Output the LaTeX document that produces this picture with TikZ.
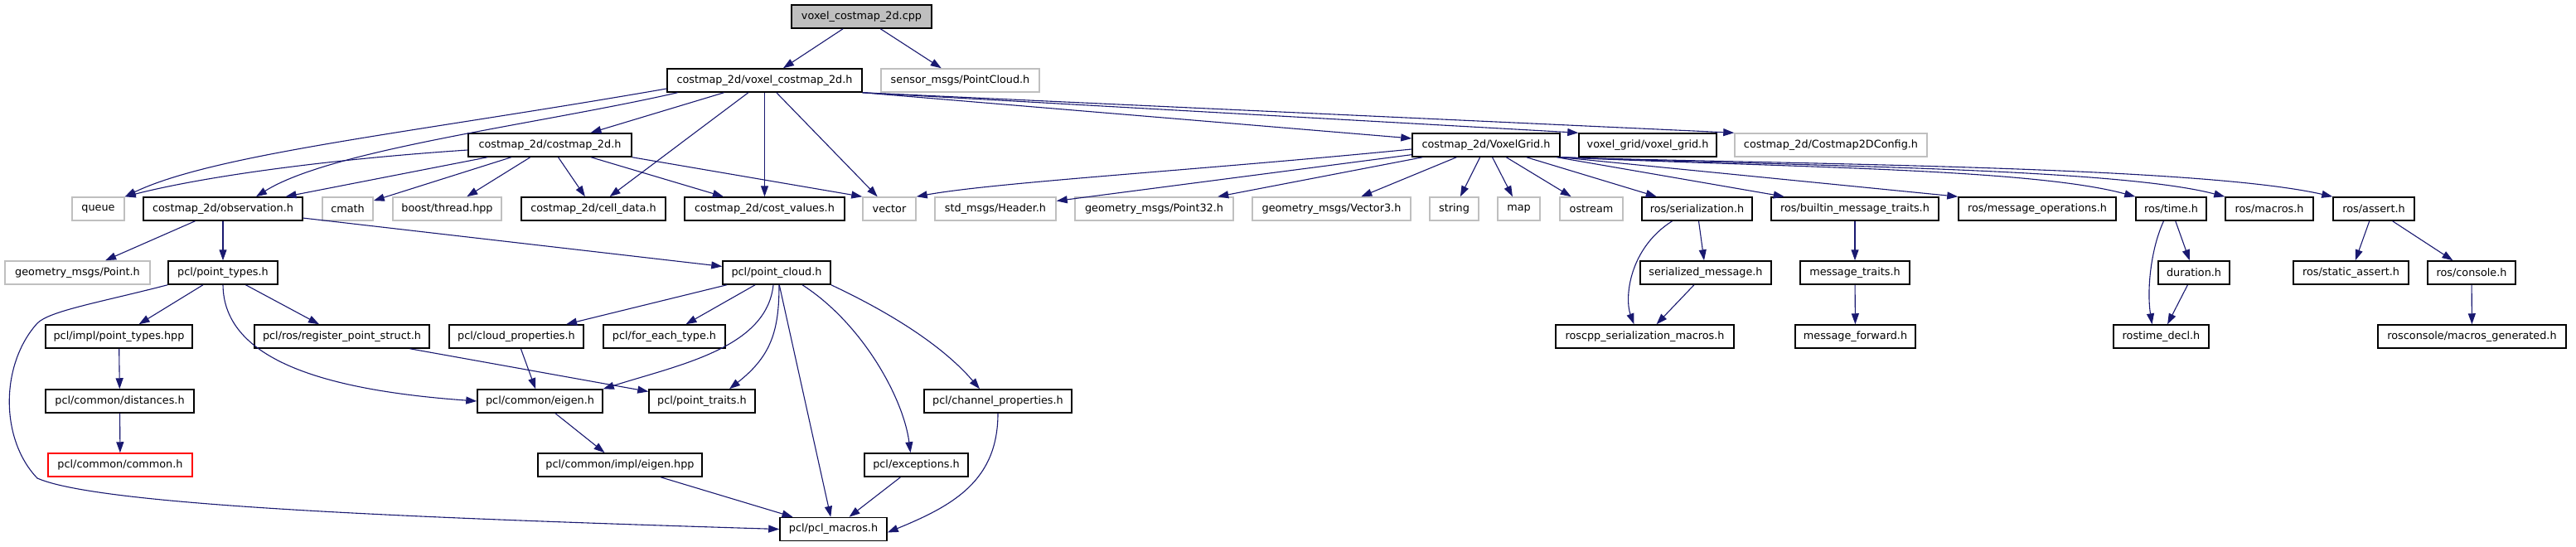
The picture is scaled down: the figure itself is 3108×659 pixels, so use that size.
\documentclass[tikz,border=0pt]{standalone}
\usepackage{fontspec}
\setmainfont{DejaVu Sans}
\usetikzlibrary{arrows.meta}
\definecolor{edgeblue}{HTML}{191970}
\definecolor{grey75}{HTML}{BFBFBF}

\begin{document}
\begin{tikzpicture}[
    x=1pt, y=-1pt,
    font=\fontsize{12.8}{15}\selectfont,
    box/.style={draw=#1, fill=white, line width=1.5pt, minimum height=28pt, inner xsep=2pt, inner ysep=0pt},
    box/.default=black,
    dep/.style={draw=edgeblue, line width=1.1pt, -{Triangle[length=13pt, width=9pt]}}
]
    \useasboundingbox (0,0) rectangle (3108,659);

    % Source file
    \node[box, fill=grey75, minimum width=169] (voxel_cpp) at (1039.5,20) {voxel\_costmap\_2d.cpp};

    % Level 1
    \node[box, minimum width=235] (voxel_h) at (922.5,97) {costmap\_2d/voxel\_costmap\_2d.h};
    \node[box=grey75, minimum width=191] (sensor_pc) at (1158.5,97) {sensor\_msgs/PointCloud.h};

    % Level 2
    \node[box, minimum width=197] (costmap_h) at (663.5,175) {costmap\_2d/costmap\_2d.h};
    \node[box, minimum width=178] (costmap_vg) at (1793,175) {costmap\_2d/VoxelGrid.h};
    \node[box, minimum width=166] (voxel_grid) at (1988,175) {voxel\_grid/voxel\_grid.h};
    \node[box=grey75, minimum width=232] (config_h) at (2209,175) {costmap\_2d/Costmap2DConfig.h};

    % Level 3
    \node[box=grey75, minimum width=63] (queue) at (118.5,252) {queue};
    \node[box, minimum width=192] (observation_h) at (269,252) {costmap\_2d/observation.h};
    \node[box=grey75, minimum width=61] (cmath) at (419.5,252) {cmath};
    \node[box=grey75, minimum width=131] (boost_thread) at (539.5,252) {boost/thread.hpp};
    \node[box, minimum width=174] (cell_data) at (716,252) {costmap\_2d/cell\_data.h};
    \node[box, minimum width=193] (cost_values) at (922.5,252) {costmap\_2d/cost\_values.h};
    \node[box=grey75, minimum width=64] (vector) at (1073,252) {vector};
    \node[box=grey75, minimum width=146] (header) at (1201,252) {std\_msgs/Header.h};
    \node[box=grey75, minimum width=191] (point32) at (1392.5,252) {geometry\_msgs/Point32.h};
    \node[box=grey75, minimum width=191] (vector3) at (1606.5,252) {geometry\_msgs/Vector3.h};
    \node[box=grey75, minimum width=59] (string) at (1754.5,252) {string};
    \node[box=grey75, minimum width=51] (map) at (1832.5,252) {map};
    \node[box=grey75, minimum width=76] (ostream) at (1920,252) {ostream};
    \node[box, minimum width=133] (serialization) at (2047.5,252) {ros/serialization.h};
    \node[box, minimum width=202] (builtin_traits) at (2238,252) {ros/builtin\_message\_traits.h};
    \node[box, minimum width=190] (msg_ops) at (2458,252) {ros/message\_operations.h};
    \node[box, minimum width=85] (ros_time) at (2619.5,252) {ros/time.h};
    \node[box, minimum width=106] (ros_macros) at (2738,252) {ros/macros.h};
    \node[box, minimum width=98] (ros_assert) at (2864,252) {ros/assert.h};

    % Level 4
    \node[box=grey75, minimum width=175] (geo_point) at (93.5,329) {geometry\_msgs/Point.h};
    \node[box, minimum width=132] (point_types) at (269,329) {pcl/point\_types.h};
    \node[box, minimum width=130] (point_cloud) at (937,329) {pcl/point\_cloud.h};
    \node[box, minimum width=158] (serialized_msg) at (2058,329) {serialized\_message.h};
    \node[box, minimum width=132] (msg_traits) at (2238,329) {message\_traits.h};
    \node[box, minimum width=86] (duration) at (2647,329) {duration.h};
    \node[box, minimum width=139] (static_assert) at (2836.5,329) {ros/static\_assert.h};
    \node[box, minimum width=106] (console) at (2982,329) {ros/console.h};

    % Level 5
    \node[box, minimum width=177] (impl_point_types) at (143.5,406) {pcl/impl/point\_types.hpp};
    \node[box, minimum width=211] (register_ps) at (412.5,406) {pcl/ros/register\_point\_struct.h};
    \node[box, minimum width=162] (cloud_props) at (623,406) {pcl/cloud\_properties.h};
    \node[box, minimum width=147] (for_each) at (801.5,406) {pcl/for\_each\_type.h};
    \node[box, minimum width=215] (ser_macros) at (1984.5,406) {roscpp\_serialization\_macros.h};
    \node[box, minimum width=145] (msg_forward) at (2238.5,406) {message\_forward.h};
    \node[box, minimum width=115] (rostime_decl) at (2607.5,406) {rostime\_decl.h};
    \node[box, minimum width=227] (macros_gen) at (2982.5,406) {rosconsole/macros\_generated.h};

    % Level 6
    \node[box, minimum width=179] (distances) at (144.5,484) {pcl/common/distances.h};
    \node[box, minimum width=151] (eigen_h) at (651.5,484) {pcl/common/eigen.h};
    \node[box, minimum width=128] (point_traits) at (847,484) {pcl/point\_traits.h};
    \node[box, minimum width=178] (channel_props) at (1204,484) {pcl/channel\_properties.h};

    % Level 7
    \node[box=red, minimum width=174] (common_h) at (145,561) {pcl/common/common.h};
    \node[box, minimum width=198] (impl_eigen) at (748,561) {pcl/common/impl/eigen.hpp};
    \node[box, minimum width=125] (exceptions) at (1105.5,561) {pcl/exceptions.h};

    % Level 8
    \node[box, minimum width=129] (pcl_macros) at (1005.5,638.5) {pcl/pcl\_macros.h};

    % Edges from the source file
    \draw[dep] (voxel_cpp) -- (voxel_h);
    \draw[dep] (voxel_cpp) -- (sensor_pc);

    % voxel_costmap_2d.h
    \draw[dep] ([yshift=-10pt]voxel_h.west) .. controls (500,160) and (260,185) .. (queue.north east);
    \draw[dep] ([xshift=-105pt]voxel_h.south) .. controls (650,150) and (400,180) .. ([xshift=40pt]observation_h.north);
    \draw[dep] (voxel_h) -- (costmap_h);
    \draw[dep] (voxel_h) -- (cell_data);
    \draw[dep] (voxel_h) -- (cost_values);
    \draw[dep] (voxel_h) -- (vector);
    \draw[dep] (voxel_h.south east) -- ([yshift=8pt]costmap_vg.west);
    \draw[dep] (voxel_h.south east) -- (voxel_grid.north west);
    \draw[dep] (voxel_h.south east) -- (config_h.north west);

    % costmap_2d.h
    \draw[dep] ([yshift=-6pt]costmap_h.west) .. controls (400,192) and (250,212) .. (queue.north east);
    \draw[dep] (costmap_h) -- (observation_h);
    \draw[dep] (costmap_h) -- (cmath);
    \draw[dep] (costmap_h) -- (boost_thread);
    \draw[dep] (costmap_h) -- (cell_data);
    \draw[dep] (costmap_h) -- (cost_values);
    \draw[dep] (costmap_h.south east) -- (vector.north west);

    % VoxelGrid.h
    \draw[dep] ([yshift=-5pt]costmap_vg.west) .. controls (1450,205) and (1200,220) .. (vector.north east);
    \draw[dep] (costmap_vg) -- (header);
    \draw[dep] (costmap_vg) -- (point32);
    \draw[dep] (costmap_vg) -- (vector3);
    \draw[dep] (costmap_vg) -- (string);
    \draw[dep] (costmap_vg) -- (map);
    \draw[dep] (costmap_vg) -- (ostream);
    \draw[dep] (costmap_vg) -- (serialization);
    \draw[dep] (costmap_vg) -- (builtin_traits);
    \draw[dep] (costmap_vg.south east) -- (msg_ops.north west);
    \draw[dep] (costmap_vg.south east) .. controls (2150,202) and (2450,203) .. (ros_time.north west);
    \draw[dep] (costmap_vg.south east) .. controls (2150,200) and (2550,202) .. (ros_macros.north west);
    \draw[dep] (costmap_vg.south east) .. controls (2150,198) and (2650,200) .. (ros_assert.north west);

    % ros headers
    \draw[dep] (serialization) -- (serialized_msg);
    \draw[dep] ([xshift=-30pt]serialization.south) .. controls (1965,300) and (1960,360) .. ([xshift=-13pt]ser_macros.north);
    \draw[dep] (serialized_msg) -- (ser_macros);
    \draw[dep] (builtin_traits) -- (msg_traits);
    \draw[dep] (msg_traits) -- (msg_forward);
    \draw[dep] (ros_time) -- (duration);
    \draw[dep] ([xshift=-9pt]ros_time.south) .. controls (2595,300) and (2590,350) .. ([xshift=-11pt]rostime_decl.north);
    \draw[dep] (duration) -- (rostime_decl);
    \draw[dep] (ros_assert) -- (static_assert);
    \draw[dep] (ros_assert) -- (console);
    \draw[dep] (console) -- (macros_gen);

    % observation.h
    \draw[dep] (observation_h) -- (geo_point);
    \draw[dep] (observation_h) -- (point_types);
    \draw[dep] (observation_h) -- (point_cloud);

    % pcl/point_types.h
    \draw[dep] (point_types) -- (impl_point_types);
    \draw[dep] (point_types) -- (register_ps);
    \draw[dep] (point_types.south) .. controls (270,430) and (380,470) .. (eigen_h.west);
    \draw[dep] (point_types.south west) .. controls (120,365) and (60,375) .. (45,390)
        .. controls (0,440) and (0,530) .. (45,577)
        .. controls (120,610) and (500,625) .. (pcl_macros.west);
    \draw[dep] (impl_point_types) -- (distances);
    \draw[dep] (distances) -- (common_h);
    \draw[dep] (register_ps) -- (point_traits);

    % pcl/point_cloud.h
    \draw[dep] (point_cloud) -- (cloud_props);
    \draw[dep] (point_cloud) -- (for_each);
    \draw[dep] ([xshift=-4pt]point_cloud.south) .. controls (925,420) and (820,440) .. (eigen_h.north east);
    \draw[dep] ([xshift=3pt]point_cloud.south) .. controls (940,400) and (930,430) .. ([xshift=33pt]point_traits.north);
    \draw[dep] (point_cloud) -- (pcl_macros);
    \draw[dep] ([xshift=31pt]point_cloud.south) .. controls (1040,390) and (1090,480) .. ([xshift=-7pt]exceptions.north);
    \draw[dep] (point_cloud.south east) .. controls (1080,380) and (1140,420) .. ([xshift=-22pt]channel_props.north);

    % pcl lower levels
    \draw[dep] (cloud_props) -- (eigen_h);
    \draw[dep] (eigen_h) -- (impl_eigen);
    \draw[dep] (impl_eigen) -- (pcl_macros);
    \draw[dep] (exceptions) -- (pcl_macros);
    \draw[dep] (channel_props.south) .. controls (1204,580) and (1150,610) .. ([yshift=-4pt]pcl_macros.east);

\end{tikzpicture}
\end{document}
